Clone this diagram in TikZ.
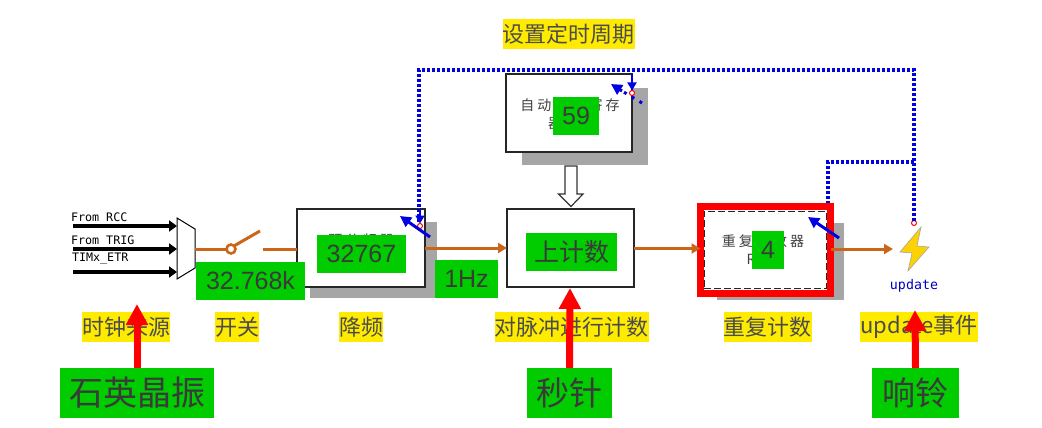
\documentclass[tikz,border=0pt]{standalone}
\usepackage{fontspec}
\setmainfont{Noto Sans CJK SC}
\newfontfamily\latinf{Liberation Sans}
\newfontfamily\monof{DejaVu Sans Mono}
\newfontfamily\spacedf[LetterSpace=22]{Noto Sans CJK SC}
\usetikzlibrary{arrows.meta,calc}
\definecolor{wire}{HTML}{C9661A}
\definecolor{gshadow}{HTML}{A6A6A6}
\definecolor{gbox}{HTML}{00CC00}
\definecolor{ybox}{HTML}{FFEB00}
\definecolor{inktxt}{HTML}{3A3A3A}
\definecolor{dotblue}{HTML}{0000E0}
\tikzset{
 px/.style={inner sep=0pt,outer sep=0pt},
 regbox/.style={px,draw=black!85,line width=1.3pt,fill=white,anchor=north west},
 shadowbox/.style={px,fill=gshadow,anchor=north west},
 greenlab/.style={px,fill=gbox,text=inktxt,anchor=center,font=\fontsize{#1}{#1}\selectfont},
 greenlab/.default=26,
 yellowlab/.style={px,fill=ybox,text=black!70,anchor=center,minimum height=30pt,font=\fontsize{22}{22}\selectfont},
 inner/.style={px,text=black!75,font=\spacedf\fontsize{14}{18}\selectfont,align=center},
 wireln/.style={draw=wire,line width=3pt},
 wirearr/.style={wireln,-{Triangle[length=9pt,width=10pt]}},
 blackarr/.style={draw=black,line width=3.4pt,-{Triangle[length=8pt,width=11pt]}},
 reg/.style={draw=dotblue,line width=3.2pt,dash pattern=on 2.6pt off 2.4pt},
 bluearr/.style={draw=dotblue,line width=3pt,-{Triangle[length=11pt,width=11pt]}},
 redarr/.style={draw=red,line width=7pt,-{Triangle[length=21pt,width=21pt]}},
 pin/.style={circle,draw=red,fill=white,line width=1pt,minimum size=5pt,px},
 mono/.style={px,font=\monof\fontsize{11.7}{11.7}\selectfont,text=black,anchor=west},
}
\begin{document}
\begin{tikzpicture}[x=1pt,y=-1pt]
\useasboundingbox (0,0) rectangle (1042,428);
% title
\node[yellowlab,minimum width=131pt] (title) at (568.5,34) {设置定时周期};
% shadows
\node[shadowbox,minimum width=127pt,minimum height=76pt] (s1) at (310,222) {};
\node[shadowbox,minimum width=126pt,minimum height=77pt] (s2) at (522,88) {};
\node[shadowbox,minimum width=127pt,minimum height=77pt] (s3) at (717,223) {};
% boxes
\node[regbox,minimum width=128pt,minimum height=78pt] (psc) at (297,209) {};
\node[regbox,minimum width=126pt,minimum height=78pt] (arr) at (506,74) {};
\node[regbox,minimum width=127pt,minimum height=78pt] (cnt) at (507,209) {};
\node[px,draw=red,line width=7pt,fill=white,anchor=north west,minimum width=130pt,minimum height=87pt] (rep) at (700.5,206.5) {};
\node[px,draw=black!85,line width=1pt,dash pattern=on 7pt off 3pt,anchor=north west,minimum width=122pt,minimum height=77pt] (repin) at (704,211) {};
% inner texts
\node[inner] (t1) at (361,240.5) {预分频器};
\node[inner] (t2) at (571,240) {计数器};
\node[inner] (t3) at (570,114) {自动重装寄存\\\hspace*{-30pt}器};
\node[inner] (t4) at (763,250) {重复计数器\\RCR};
% mux
\node[px,minimum width=18pt,minimum height=61pt] (mux) at (186,248.5) {};
\draw[fill=white,draw=black,line width=1pt] (177,218) -- (195,229) -- (195,268) -- (177,279) -- cycle;
% inputs
\node[mono] (rcc) at (71,217) {From RCC};
\node[mono] (trig) at (71,240) {From TRIG};
\node[mono] (etr) at (72,258.5) {TIMx\_ETR};
\coordinate (i1) at (73,226); \coordinate (i2) at (73,249); \coordinate (i3) at (73,272);
\draw[blackarr] (i1) -- (mux.west |- i1);
\draw[blackarr] (i2) -- (mux.west |- i2);
\draw[blackarr] (i3) -- (mux.west |- i3);
% switch
\node[circle,draw=wire,fill=white,line width=2.6pt,minimum size=9pt,px] (sw) at (231,249) {};
\coordinate (lever) at (260,231);
\coordinate (swr) at (263,249);
\draw[wireln] (mux.east |- sw) -- (sw.west);
\draw[wireln] (sw.north east) -- (lever);
\draw[wireln] (swr) -- (psc.west |- swr);
% wires
\draw[wirearr] (psc.east |- 0,248) -- (cnt.west |- 0,248);
\draw[wirearr] (cnt.east |- 0,248.5) -- (rep.west |- 0,248.5);
\draw[wirearr] (rep.east |- 0,249) -- (893,249);
% hollow arrow
\node[px] (hh) at (571,166) {};
\draw[fill=white,draw=black!80,line width=1.2pt] (hh.center) ++(-6,0) -- ++(12,0) -- ++(0,28) -- ++(6,0) -- (571,206.5) -- (558.5,194) -- ++(6.5,0) -- cycle;
% lightning
\draw[fill=yellow!70!orange,draw=black!35,line width=0.6pt] (921,227) -- (900,252) -- (912,253) -- (908,271) -- (929,247) -- (917,246) -- cycle;
\node[px,font=\monof\fontsize{13.3}{13.3}\selectfont,text=blue!75!black] (updt) at (914,286) {update};
% pins
\node[pin] (p1) at (420,226) {};
\node[pin] (p2) at (632,93) {};
\node[pin] (p3) at (914,223) {};
\coordinate (top) at (914,70);
\coordinate (c1) at (419,70);
\coordinate (c2) at (632,74);
\coordinate (b1) at (914,162);
\coordinate (b2) at (828,162);
\coordinate (b3) at (828,203);
\draw[reg] (p3) -- (top) -- (c1) -- (c1 |- p1.north);
\draw[reg] (b1) -- (b2) -- (b3);
\draw[draw=dotblue,line width=1.8pt,-{Triangle[length=8pt,width=9pt]}] (420,212) -- (p1.north);
\draw[draw=dotblue,line width=1.8pt,-{Triangle[length=8pt,width=9pt]}] (c2) -- (p2.north);
% blue slashes
\coordinate (a1) at (430,237); \coordinate (a2) at (400,216);
\coordinate (b4) at (642,103); \coordinate (b5) at (611,84); \coordinate (b6) at (622,91);
\coordinate (c4) at (839,238); \coordinate (c5) at (808,217);
\draw[bluearr] (a1) -- (a2);
\draw[draw=dotblue,line width=3pt,dash pattern=on 3pt off 6pt] (b4) -- (b6);
\draw[bluearr] (b6) -- (b5);
\draw[bluearr] (c4) -- (c5);
% green labels
\node[greenlab=25,minimum width=109pt,minimum height=38pt] (g1) at (250.5,281) {\latinf 32.768k};
\node[greenlab=25,minimum width=89pt,minimum height=38pt] (g2) at (361.5,254) {\latinf 32767};
\node[greenlab=25,minimum width=63pt,minimum height=38pt] (g3) at (466.5,279) {\latinf 1Hz};
\node[greenlab=25,minimum width=46pt,minimum height=38pt] (g4) at (576,116) {\latinf 59};
\node[greenlab=25,minimum width=91pt,minimum height=38pt] (g5) at (571.5,252) {上计数};
\node[greenlab=25,minimum width=32pt,minimum height=38pt] (g6) at (768,250) {\latinf 4};
% yellow labels
\node[yellowlab,minimum width=88pt] (y1) at (126,327) {时钟来源};
\node[yellowlab,minimum width=44pt] (y2) at (237,327) {开关};
\node[yellowlab,minimum width=44pt] (y3) at (361,327) {降频};
\node[yellowlab,minimum width=153pt] (y4) at (571.5,327) {对脉冲进行计数};
\node[yellowlab,minimum width=87pt] (y5) at (767.5,327) {重复计数};
\node[yellowlab,minimum width=118pt] (y6) at (919,327) {update事件};
% big green
\node[greenlab=34,minimum width=154pt,minimum height=50pt] (b1n) at (137,393) {石英晶振};
\node[greenlab=33,minimum width=85pt,minimum height=50pt] (b2n) at (569.5,393) {秒针};
\node[greenlab=33,minimum width=87pt,minimum height=50pt] (b3n) at (915.5,393) {响铃};
% red arrows
\coordinate (r1) at (137,304); \coordinate (r2) at (570,288); \coordinate (r3) at (915,310);
\draw[redarr] (b1n.north) -- (r1);
\draw[redarr] (b2n.north) -- (r2);
\draw[redarr] (b3n.north) -- (r3);
\end{tikzpicture}
\end{document}
